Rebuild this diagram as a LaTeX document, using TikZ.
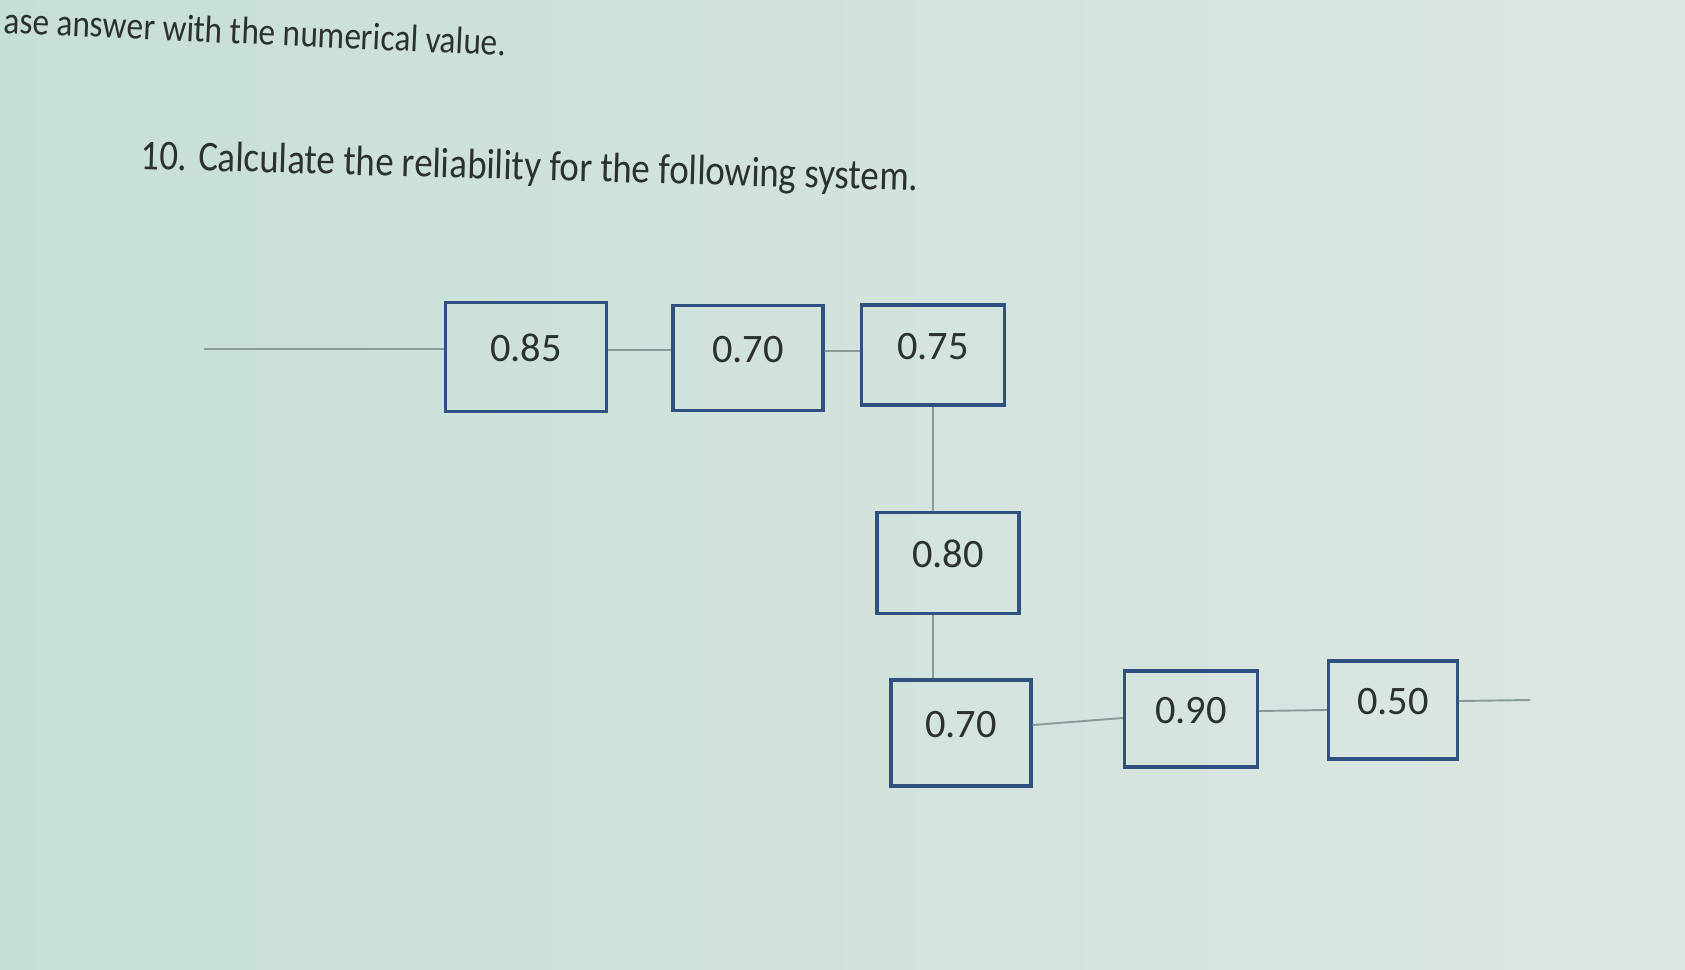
\documentclass[tikz,border=0pt]{standalone}
\usepackage{fontspec}
\setmainfont{Carlito}
\definecolor{bgleft}{HTML}{C6DFD6}
\definecolor{bgright}{HTML}{DDE6E2}
\definecolor{boxline}{HTML}{30507F}
\definecolor{wireline}{HTML}{8A9A9A}
\definecolor{inktext}{HTML}{2C3030}
\tikzset{
  blk/.style={draw=boxline, line width=1.9pt, inner sep=0pt, text=inktext,
    font=\fontsize{23}{26}\selectfont, text height=15pt, text depth=10pt},
  wire/.style={draw=wireline, line width=1.1pt},
  prompt/.style={anchor=base west, inner sep=0pt, text=inktext},
}
\begin{document}
\begin{tikzpicture}[x=0.02cm, y=-0.02cm]
    \shade[left color=bgleft, right color=bgright] (0,0) rectangle (1685,970);
    \useasboundingbox (0,0) rectangle (1685,970);

    % question
    \node[prompt, rotate=-2.6, font=\fontsize{19}{22}\selectfont] (hint) at (3,33)
        {\scalebox{1}[1.15]{ase answer with the numerical value.}};
    \node[prompt, rotate=-1.6, font=\fontsize{21}{24}\selectfont] (title) at (140,169)
        {\scalebox{1}[1.15]{10. Calculate the reliability for the following system.}};

    % blocks
    \node[blk, minimum width=3.22cm, minimum height=2.18cm] (b1) at (526,357) {0.85};
    \node[blk, minimum width=3.00cm, minimum height=2.10cm] (b2) at (748,358) {0.70};
    \node[blk, minimum width=2.86cm, minimum height=2.00cm] (b3) at (933,355) {0.75};
    \node[blk, minimum width=2.84cm, minimum height=2.02cm] (b4) at (948,563) {0.80};
    \node[blk, minimum width=2.80cm, minimum height=2.12cm] (b5) at (961,733) {0.70};
    \node[blk, minimum width=2.66cm, minimum height=1.92cm] (b6) at (1191,719) {0.90};
    \node[blk, minimum width=2.58cm, minimum height=1.96cm] (b7) at (1393,710) {0.50};

    \coordinate (in) at (204,349);
    \coordinate (out) at (1530,700);

    % connectors
    \draw[wire] (in) -- ([yshift=0.16cm]b1.west);
    \draw[wire] ([yshift=0.14cm]b1.east) -- ([yshift=0.16cm]b2.west);
    \draw[wire] ([yshift=0.14cm]b2.east) -- ([yshift=0.08cm]b3.west);
    \draw[wire] (b3.south) -- (b3.south |- b4.north);
    \draw[wire] (b3.south |- b4.south) -- (b3.south |- b5.north);
    \draw[wire] ([yshift=0.16cm]b5.east) -- ([yshift=0.02cm]b6.west);
    \draw[wire] ([yshift=0.16cm]b6.east) -- (b7.west);
    \draw[wire] ([yshift=0.18cm]b7.east) -- (out);
\end{tikzpicture}
\end{document}
